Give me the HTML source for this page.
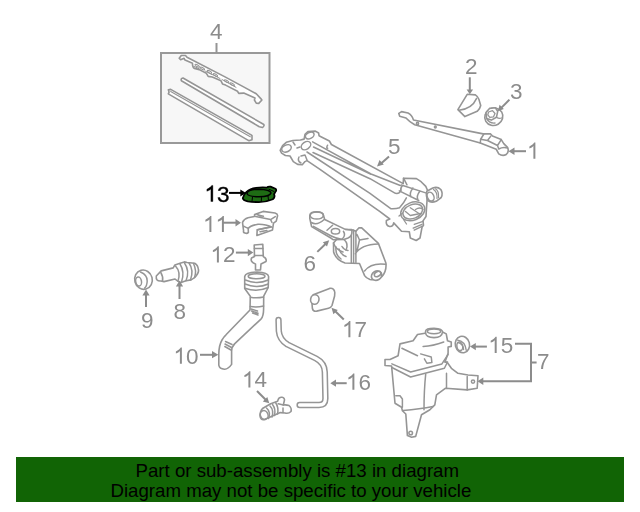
<!DOCTYPE html>
<html><head><meta charset="utf-8">
<style>
html,body{margin:0;padding:0;background:#fff;width:640px;height:512px;overflow:hidden}
svg{display:block;position:absolute;left:0;top:0}
text{will-change:transform}
.one{fill:#8c8c8c}
.t{font-family:"Liberation Sans",sans-serif;font-size:22.5px;fill:#8c8c8c}
.ln{fill:none;stroke:#959595;stroke-width:1.5;stroke-linejoin:round;stroke-linecap:round}
.pt{fill:#fff;stroke:#959595;stroke-width:1.6;stroke-linejoin:round;stroke-linecap:round}
.al{fill:none;stroke:#8c8c8c;stroke-width:2}
.ah{fill:#8c8c8c}
#bar{position:absolute;left:16px;top:457px;width:608px;height:45px;background:#116405;color:#000;font-family:"Liberation Sans",sans-serif;font-size:18.67px;line-height:20px}
#bar div{position:absolute;white-space:nowrap}
.l1{left:119.5px;top:4px}.l2{left:94.5px;top:24px}
</style></head><body>
<svg width="640" height="512" viewBox="0 0 640 512">
<!-- ===== part 4 box ===== -->
<rect x="161" y="53" width="108.5" height="90" fill="#f7f7f7" stroke="#999" stroke-width="2"/>
<line x1="216.5" y1="43" x2="216.5" y2="53" stroke="#959595" stroke-width="2"/>
<text class="t" x="210.00" y="39.0">4</text>
<path class="pt" d="M179.2,58.3 L181.3,55.5 L185.5,55.5 L187,57.3 L225,76.9 L243.1,86.6 L256.25,93.75 L261.25,99.1 L261.9,100 L258.75,103.4 L256.25,103.1 L254.4,100 L255,98.1 L243.75,93.1 L238.75,93.4 L237.5,91.25 L225.6,85.1 L222.5,83.9 L221,80.8 L212.3,77 L208.2,76.4 L206.4,73.3 L199.2,69.6 L194.5,68.4 Q192.3,67.5 192.5,63.3 L185,60.1 L184.1,58.3 L180.6,59.7 Z"/>
<ellipse class="ln" cx="197.2" cy="65.8" rx="2.5" ry="0.9" transform="rotate(28 197.2 65.8)" style="stroke-width:1.1"/><ellipse class="ln" cx="202.4" cy="68.5" rx="2.5" ry="0.9" transform="rotate(28 202.4 68.5)" style="stroke-width:1.1"/><ellipse class="ln" cx="209.4" cy="71.9" rx="2.5" ry="0.9" transform="rotate(28 209.4 71.9)" style="stroke-width:1.1"/><ellipse class="ln" cx="215.4" cy="75" rx="2.5" ry="0.9" transform="rotate(28 215.4 75)" style="stroke-width:1.1"/><ellipse class="ln" cx="226.6" cy="81.2" rx="2.5" ry="0.9" transform="rotate(28 226.6 81.2)" style="stroke-width:1.1"/><ellipse class="ln" cx="232.2" cy="84.2" rx="2.5" ry="0.9" transform="rotate(28 232.2 84.2)" style="stroke-width:1.1"/>
<path class="ln" d="M194.5,66.5 L200,69.3 M205.5,71.2 L212,74.7 M222,79.5 L236,87.3 M212.5,74.5 L220,78.5" style="stroke-width:1"/>
<path class="pt" d="M181.4,80.7 Q180.5,78.5 183,78 L263.4,124.2 Q265,125.5 262.6,127.5 L259.3,126.7 Z"/>
<path class="pt" d="M168.3,89.8 L170.7,89.4 L251.1,134.9 L252,135.7 L252,139.8 L249.5,140.6 L248.7,140.6 L168.3,93.9 L169.1,92.2 Z"/>
<path class="ln" d="M170.7,91.6 L250.3,136.8" style="stroke-width:1.1"/>

<!-- ===== part 1 arm ===== -->
<path class="pt" d="M398.8,113.4 L401.6,111.6 L408,113 Q412,115 413.5,120 L483.1,133.9 L490.6,133.9 L492.5,136.1 L501.25,139.6 L503.75,143.6 L507.5,147.4 Q509.5,151.5 506.25,154.5 Q502.5,156.5 498.75,153.8 L496.25,149.25 L480.3,143 L414.7,124.7 Q409,121.5 406,118 L399.7,116.3 Z"/>
<path class="ln" d="M483.75,134.25 L480.6,139.25 L480.3,143 M481.9,139.6 L487.5,140.5 L490.8,136.1 M487.5,140.5 L497.5,145.5 L501.25,139.6 M497.5,145.5 L498.75,149 Q503,146.5 507.5,148"/>
<circle class="ln" cx="417.5" cy="123.4" r="1.1"/>
<circle class="ln" cx="435.3" cy="127" r="0.9"/>
<line class="al" x1="526" y1="151.2" x2="512" y2="151.2"/>
<path class="ah" d="M508.5,151.2 L514.5,147.5 L514.5,155 Z"/>
<path class="one" transform="translate(527.00 158.7)" d="M8.38,0 L6.40,0 L6.40,-12.6 Q5.7,-11.9 4.76,-11.24 Q3.6,-10.6 2.38,-10.3 L2.38,-12.23 Q4.0,-13.0 5.5,-14.2 Q6.6,-15.2 7.24,-16.1 L8.38,-16.1 Z"/>

<!-- ===== part 2 cap ===== -->
<path class="pt" d="M467.2,94.3 L475.4,94.9 Q478,96.5 479,99.6 L480.7,105.5 Q480,109 477.2,111.3 L464.9,116.6 L457.9,109.6 Z"/>
<path class="ln" d="M459,110.2 Q472,109 476.6,98.4"/>
<line class="al" x1="469.8" y1="77.3" x2="469.8" y2="90"/>
<path class="ah" d="M466.6,89.5 L473.1,89.5 L469.8,94.3 Z"/>
<text class="t" x="465.00" y="73.8">2</text>

<!-- ===== part 3 nut ===== -->
<ellipse class="pt" cx="493.8" cy="116.8" rx="9.2" ry="8.6" transform="rotate(-30 493.8 116.8)"/>
<path class="pt" d="M486,112.5 L489.5,108.4 L495.4,107.8 L497.7,111.3 L496.5,117.2 L491.3,120.1 L486.6,118.4 Z"/>
<path class="ln" d="M488.5,112 L492.5,110.6 L495,113.5 L493.5,116.8 L489.8,117.3 L487.8,114.8 Z M486.6,118.4 Q489,123.5 495,123 M496.5,117.2 Q499,119 501.5,118" style="stroke-width:1.3"/>
<line class="al" x1="509.4" y1="99.6" x2="500.5" y2="108.6"/>
<path class="ah" d="M497.8,111.2 L499.6,104.8 L503.8,109 Z"/>
<text class="t" x="510.00" y="98.5">3</text>

<!-- ===== part 5 linkage ===== -->
<path class="pt" d="M280.2,150.3 L282.6,145.6 L286.3,142.3 L292.9,140.5 L300.4,140 L304.1,139.1 L305,134.4 L307.9,131.6 L315.4,131.1 L318.6,133 L319.1,135.8 L321.9,137.2 L329.4,141 L331.4,144.5 L403.2,183.6 L403.5,178.2 L416.4,178.6 L421.1,181.7 L425.8,186.4 L427.7,190.7 L426.4,209.7 L426,216.5 L423,220.9 L423.5,225.3 L422,227.3 L420,238 L416.2,240.5 L410.3,238 L409.3,231.7 L401.5,231.2 L393.7,222.9 Q393,227 389.5,226.5 Q385.5,225.5 386.4,220.4 L389.8,219 L380,211.6 L320,169.3 L307,160.6 L305,161.6 L302.25,164.8 L297.6,164.4 L293.3,161.6 L290,156 L285.4,155.5 L281.6,153.1 Z"/>
<ellipse class="ln" cx="309.75" cy="135.5" rx="4.6" ry="3" transform="rotate(-28 309.75 135.5)"/>
<ellipse class="ln" cx="286.5" cy="148.4" rx="5" ry="3.4" transform="rotate(-25 286.5 148.4)"/>
<ellipse class="ln" cx="306" cy="145.6" rx="5.2" ry="3.6" transform="rotate(-35 306 145.6)"/>
<path class="ln" d="M299,157 Q297,161 301,163 M301,156 L305,155 L307,160 M297,148 L300,147 M293,142 L295,145"/>
<!-- rods -->
<path class="ln" d="M312.6,141.9 L371,174 L400.3,185.5 M313.5,147 L371,174.3 M313,152.5 L370,178.7 L395.4,193.3 Q399.3,194 400.5,191 M307,152 L370,193.3 L390.75,208.7 Q396,209 399.5,207.7 Q404,203 406.4,197.9 M327.6,145.2 Q326,148 327.6,148.3"/>
<!-- rod end -->
<path class="ln" d="M401.3,185 L427.3,193.4 M399.3,190.9 L418.75,200.5 M402.5,185.5 Q400,188 401,191.5 M413,188 Q409,193 411,197 M420,191 Q416,196 418,200 M407,184.8 L403.5,178.2"/>
<path class="pt" d="M426.8,191.2 L432.8,188 Q437.5,186.3 440.8,189.5 Q443.3,193.5 441.2,197.5 L436.2,201.3 Q431,203.3 428,200.6 Q425.6,196.5 426.8,191.2 Z"/>
<ellipse class="ln" cx="430.6" cy="196.6" rx="3.2" ry="4.6" transform="rotate(-25 430.6 196.6)"/>
<path class="ln" d="M433.5,189.5 Q437.5,192 437,198.5 M435.5,188.8 Q439,191 438.5,197.5" style="stroke-width:1.2"/>
<!-- housing -->
<ellipse class="ln" cx="412.8" cy="211.3" rx="12.5" ry="8.8" transform="rotate(-22 412.8 211.3)"/>
<ellipse class="ln" cx="412.8" cy="211.5" rx="10.3" ry="6.9" transform="rotate(-22 412.8 211.5)"/>
<path class="ln" d="M405.5,211.5 L410.3,215.5 L420.5,213.5 M410.3,207.7 L420.5,214.5 M415.5,209.5 Q420,206.5 423,209.5" style="stroke-width:1.3"/>
<path class="ln" d="M414.2,224.3 L423,221.4 M413.2,228.2 L422,224.3 M414.2,230.2 L422,226.3 M403.5,219.5 L406.5,224 M399,216 L402,213.5" style="stroke-width:1.3"/>
<line class="al" x1="389" y1="156.5" x2="380.5" y2="164"/>
<path class="ah" d="M377,166.5 L379.5,160 L383.8,164.5 Z"/>
<text class="t" x="388.00" y="154.0">5</text>

<!-- ===== part 13 green cap ===== -->
<path d="M242.8,198.2 Q243.5,194.5 246.5,191.8 Q250,188.6 256,187.8 Q262,187.2 266.8,187.6 Q268,186.3 270.5,186.6 L275.5,188.8 Q277,190 275.3,192 L274,194.2 Q275.5,197 272.8,199.3 Q266,202.3 258.4,202.2 Q252,202 247.8,201.4 Q243,200.5 242.8,198.2 Z" fill="#1e6c14" stroke="#000" stroke-width="1.8" stroke-linejoin="round"/>
<path d="M247,193.5 Q247.5,189.5 259,189.2 Q270.5,189.5 271,193 Q270,196.6 259,196.8 Q247.5,196.6 247,193.5 Z" fill="#1e6c14" stroke="#000" stroke-width="1.5"/>
<path d="M252.5,197 L252,201 M261.5,197.2 L261.3,201.8 M268,196 L268.5,200.5 M268.5,189 L274,191.5" stroke="#000" stroke-width="1" fill="none"/>
<line x1="229" y1="192.9" x2="241" y2="192.9" stroke="#000" stroke-width="2"/>
<path d="M246.1,192.9 L240.3,189.4 L240.3,196.4 Z" fill="#000"/>
<path class="one" transform="translate(204.5 201.5)" d="M8.38,0 L6.40,0 L6.40,-12.6 Q5.7,-11.9 4.76,-11.24 Q3.6,-10.6 2.38,-10.3 L2.38,-12.23 Q4.0,-13.0 5.5,-14.2 Q6.6,-15.2 7.24,-16.1 L8.38,-16.1 Z" style="fill:#000;stroke:#000;stroke-width:0.35"/><text x="216.9" y="201.5" style="font-family:'Liberation Sans',sans-serif;font-size:22.5px;fill:#000;stroke:#000;stroke-width:0.35">3</text>

<!-- ===== part 11 clip ===== -->
<path class="pt" d="M242.5,222.4 Q244,219 248,217.8 L254.4,216.5 L254.6,214.6 L263.1,211.4 L275,213 Q278,214 277.5,216 L276.25,221.1 L273.5,223.2 L272.5,229.9 L256.9,235.5 L257.2,229.9 L271,226.8 Q266,224 258,224.2 Q250,225.5 248.2,228.6 L248.4,232.4 Q247,234 245,233 Q243,232.5 243.6,231 Z"/>
<path class="ln" d="M254.5,216.3 L270.6,219.6 L272,222.5 M270.6,219.6 L275.3,216.6 M243.6,226.1 Q246,227.5 248.2,228.3 M257.4,229.8 L271.5,227 M260,231.7 L266.9,230.4 M257,214.5 Q260,216 263.5,216.2"/>
<line class="al" x1="223" y1="222.7" x2="237" y2="222.7"/>
<path class="ah" d="M241,222.7 L235.5,219 L235.5,226.4 Z"/>
<path class="one" transform="translate(203.00 232.0)" d="M8.38,0 L6.40,0 L6.40,-12.6 Q5.7,-11.9 4.76,-11.24 Q3.6,-10.6 2.38,-10.3 L2.38,-12.23 Q4.0,-13.0 5.5,-14.2 Q6.6,-15.2 7.24,-16.1 L8.38,-16.1 Z"/><path class="one" transform="translate(215.51 232.0)" d="M8.38,0 L6.40,0 L6.40,-12.6 Q5.7,-11.9 4.76,-11.24 Q3.6,-10.6 2.38,-10.3 L2.38,-12.23 Q4.0,-13.0 5.5,-14.2 Q6.6,-15.2 7.24,-16.1 L8.38,-16.1 Z"/>

<!-- ===== part 12 ===== -->
<path class="pt" d="M254.2,245 L262.8,244.3 L263.3,256.5 Q267,258.5 266,261.5 L261,264 L260.5,270 L255.5,270 L255.5,264 Q250,262 251.5,258 L254.5,256.5 Z"/>
<path class="ln" d="M254.4,248.5 L262.9,248.5 M254.5,255.5 L263,255.5"/>
<line class="al" x1="235.9" y1="252.6" x2="249.5" y2="252.6"/>
<path class="ah" d="M253.4,252.6 L247.8,249 L247.8,256.2 Z"/>
<path class="one" transform="translate(210.50 262.4)" d="M8.38,0 L6.40,0 L6.40,-12.6 Q5.7,-11.9 4.76,-11.24 Q3.6,-10.6 2.38,-10.3 L2.38,-12.23 Q4.0,-13.0 5.5,-14.2 Q6.6,-15.2 7.24,-16.1 L8.38,-16.1 Z"/><text class="t" x="223.01" y="262.4">2</text>

<!-- ===== part 10 hose ===== -->
<path class="pt" d="M244.7,276.5 Q245.5,272.5 257,272 Q268,272.5 268.6,276.5 L268.2,287.5 L263.7,296.2 L263.6,309.2 Q263.5,316 261.2,318.8 L234.8,343.6 Q231.6,347 231.6,351 L231.6,364.4 Q228,369.5 224.4,369.2 Q219.5,369 218.8,365.2 L218.8,354 Q219,345 222,340 Q224,336.5 226,334.8 L250,310 L250.3,296.2 L244.7,288.5 Z"/>
<ellipse class="ln" cx="256.6" cy="276.3" rx="8.4" ry="2.5"/>
<path class="ln" d="M245.4,280 Q257,285 268.3,280 M245.2,284 Q257,289 268.3,284 M245,288.2 Q257,292.5 268.2,287.5 M250.5,297.3 Q257,298.5 263.6,297 M250.3,306.5 Q257,307.5 263.6,306"/>
<path class="ln" d="M251,309 L257.5,311 M251.5,311 L258,313.2 M252.5,313 L258,315 M225.5,341.5 L232,344.5 M225,344 L231.5,347.5 M224.8,346.5 L231,350"/>
<line class="al" x1="200" y1="354.8" x2="213" y2="354.8"/>
<path class="ah" d="M218.3,354.7 L212,351 L212,358.2 Z"/>
<path class="one" transform="translate(173.50 363.7)" d="M8.38,0 L6.40,0 L6.40,-12.6 Q5.7,-11.9 4.76,-11.24 Q3.6,-10.6 2.38,-10.3 L2.38,-12.23 Q4.0,-13.0 5.5,-14.2 Q6.6,-15.2 7.24,-16.1 L8.38,-16.1 Z"/><text class="t" x="186.01" y="363.7">0</text>

<!-- ===== part 9 grommet ===== -->
<ellipse class="pt" cx="143.5" cy="279.7" rx="8.8" ry="9.7" transform="rotate(-15 143.5 279.7)"/>
<path class="ln" d="M140.5,272 Q147.5,275 147.2,281 Q147,286 144.6,288.1"/>
<ellipse class="ln" cx="138.6" cy="281.5" rx="2.9" ry="4.5" transform="rotate(-10 138.6 281.5)"/>
<line class="al" x1="146" y1="307" x2="146" y2="293"/>
<path class="ah" d="M146,289.5 L142.4,295.5 L149.6,295.5 Z"/>
<text class="t" x="141.00" y="328.2">9</text>

<!-- ===== part 8 nozzle ===== -->
<path class="pt" d="M156.3,276 Q155.5,281.5 161,281 L164,281.6 L175,279 Q178,282 181,282.5 L186,280.8 L191.2,279.9 Q195,278 196.4,275.6 Q199,272 198.5,270 Q198,265 194.7,263.2 L187,262.5 L184.4,261.9 L180,263.2 L174.9,264.9 L173.2,267.9 L161.2,270.9 Z"/>
<path class="ln" d="M175.5,266 Q181,272 178,281 M180,264 Q185,272 181.5,282 M184.5,263 Q190,271 186,280.8 M189,263 Q194,270 190.5,280 M193.5,263.5 Q197,271 194.5,277.5 M160.8,272.5 Q163.5,277 162.5,281.3"/>
<line class="al" x1="179.5" y1="299" x2="179.5" y2="285"/>
<path class="ah" d="M179.5,280.5 L175.9,286.5 L183.1,286.5 Z"/>
<text class="t" x="173.50" y="318.5">8</text>

<!-- ===== part 6 motor ===== -->
<!-- housing behind -->
<path class="pt" d="M333.5,243 L345,229.5 L351.3,229.6 L355.9,231.3 L358.8,227.9 L361.7,227.9 L378.4,243.4 L385.9,263 Q386.8,271 382,276.5 Q376,280.5 370,279.5 Q366,278 364.6,275.6 L359.5,263.5 L345,263 Q336,260 333.6,252 Z"/>
<path class="ln" d="M351.3,230 L351.3,263 M353.6,230 L353.6,263 M355.9,231.5 L355.9,262.5 M355.4,253.8 Q361,244.5 378.4,244 M364.6,271 Q371,262.5 385.6,264.3 M357,234.5 L359.5,240 L368,238.5 M359.5,240 L357,251"/>
<path class="ln" d="M336,247 Q335,255 341,259 M339,249 Q341,255 346,256.5 M342,246.5 Q344,250 348,250.5"/>
<!-- crank arm -->
<path class="pt" d="M309.8,215.5 Q310,211.8 316.75,211.8 Q323.5,212 323.5,215.5 L324.7,219.5 L345.3,229.4 L351.9,230.3 Q352.5,236 348,238 L344,239.5 L333.1,239.7 L331.25,238.3 L311.6,226.6 L309.8,218.5 Z"/>
<ellipse class="ln" cx="316.75" cy="215.5" rx="6.6" ry="3.6"/>
<path class="ln" d="M311.3,222.5 Q317,226 324.2,219.5 M313.4,226.3 L331.25,236 Q338,239.5 342.5,238.75 Q346,235 343.4,231.25 M327,230.3 L332.6,225.2"/>
<ellipse class="ln" cx="335.5" cy="231.2" rx="4.2" ry="2.8"/>
<path class="ln" d="M344,239.5 Q349,244 346,250 M333.5,243 Q336,250 343,252"/>
<ellipse class="pt" cx="376.6" cy="275.6" rx="5.4" ry="4.5" transform="rotate(-30 376.6 275.6)"/>
<ellipse class="ln" cx="377.6" cy="274" rx="3.5" ry="2.3" transform="rotate(-30 377.6 274)"/>
<line class="al" x1="317.3" y1="251.9" x2="326.5" y2="243"/>
<path class="ah" d="M329.2,240.2 L322.8,242.2 L327,246.4 Z"/>
<text class="t" x="303.60" y="270.6">6</text>

<!-- ===== part 17 ===== -->
<path class="pt" d="M313.2,294.8 L329.6,288.4 Q334.3,287.6 334.8,292.5 L334.6,296 L332,305.5 Q331,307.6 328.5,308.2 L316.7,311.1 Q313,311.8 312.4,308.5 L312,303.5 Z"/>
<ellipse class="pt" cx="314.8" cy="299.5" rx="4.2" ry="4.8" transform="rotate(10 314.8 299.5)"/>
<line class="al" x1="343.8" y1="319.5" x2="334.5" y2="310.5"/>
<path class="ah" d="M331.5,307.8 L333.4,314.3 L337.8,310 Z"/>
<path class="one" transform="translate(342.00 337.2)" d="M8.38,0 L6.40,0 L6.40,-12.6 Q5.7,-11.9 4.76,-11.24 Q3.6,-10.6 2.38,-10.3 L2.38,-12.23 Q4.0,-13.0 5.5,-14.2 Q6.6,-15.2 7.24,-16.1 L8.38,-16.1 Z"/><text class="t" x="354.51" y="337.2">7</text>

<!-- ===== part 16 hose ===== -->
<path d="M278.5,320 L278.8,331 Q279.5,339.5 287.5,344.5 L316,358.5 Q324.6,363 324.8,372 L325.4,398.5 Q325.4,405 319,405 L299.6,405" fill="none" stroke="#959595" stroke-width="6.4" stroke-linecap="round" stroke-linejoin="round"/>
<path d="M278.5,320 L278.8,331 Q279.5,339.5 287.5,344.5 L316,358.5 Q324.6,363 324.8,372 L325.4,398.5 Q325.4,405 319,405 L299.6,405" fill="none" stroke="#fff" stroke-width="3.3" stroke-linecap="round" stroke-linejoin="round"/>
<line class="al" x1="346.7" y1="383.2" x2="334" y2="383.2"/>
<path class="ah" d="M330.3,383.2 L336,379.6 L336,386.8 Z"/>
<path class="one" transform="translate(346.00 389.7)" d="M8.38,0 L6.40,0 L6.40,-12.6 Q5.7,-11.9 4.76,-11.24 Q3.6,-10.6 2.38,-10.3 L2.38,-12.23 Q4.0,-13.0 5.5,-14.2 Q6.6,-15.2 7.24,-16.1 L8.38,-16.1 Z"/><text class="t" x="358.51" y="389.7">6</text>

<!-- ===== part 14 pump ===== -->
<path class="pt" d="M262.5,408.5 L270.7,403.7 L277.6,401.3 L278.2,399.5 Q279,397 282,397.3 Q285,398 284.4,400.5 L283.3,405 Q286,404.5 289,405.5 Q292,408 291,411.5 Q288.5,414 285,413 L280.3,412.6 L264.6,419.4 Q260.5,420.5 260,416 Q260,411 262.5,408.5 Z"/>
<ellipse class="ln" cx="264.2" cy="415" rx="3.8" ry="4.5" transform="rotate(-20 264.2 415)"/>
<path class="ln" d="M266.5,408 Q271,412 268.5,418.5 M270,406 Q274,410 272,417 M272.5,404.5 Q276,409 274.5,415.5 M275.5,402.5 Q279,407.5 277.5,414 M278.2,403.7 L283.3,405 M283,408 L283,412.5"/>
<line class="al" x1="257" y1="391" x2="266.2" y2="400.2"/>
<path class="ah" d="M269.3,403.3 L262.8,401.5 L267.3,397 Z"/>
<path class="one" transform="translate(242.00 387.4)" d="M8.38,0 L6.40,0 L6.40,-12.6 Q5.7,-11.9 4.76,-11.24 Q3.6,-10.6 2.38,-10.3 L2.38,-12.23 Q4.0,-13.0 5.5,-14.2 Q6.6,-15.2 7.24,-16.1 L8.38,-16.1 Z"/><text class="t" x="254.51" y="387.4">4</text>

<!-- ===== part 7 tank ===== -->
<path class="pt" d="M385,359.5 L390,359.5 L398.1,355.75 L400,343.9 L413.1,340.75 L417.5,334.5 L425,333.25 L442.5,332 L446.25,333.9 L447.5,340.75 L451.25,342 L451.25,346.4 L448.1,347 L448.1,353.25 L445,362 L447.3,362.5 L451.4,368.3 L458,373.3 L468,375 L478,375.8 L477.2,388.2 L467.2,389.9 L445.6,388.2 L436.5,394.9 L434.8,404.9 L429.9,409.8 L421.5,414.8 L415.7,436.4 L411.6,437.2 L407.4,435.6 L405.8,414 L402.4,410.7 L401.6,407.3 L395,403.2 L391.6,366 L385,365.5 Z"/>
<path class="pt" d="M425.6,331 Q426,328.2 434,328.2 Q442.5,328.5 442.5,332 Q442,337.6 434,337.6 Q426,337.4 425.6,333 Z"/>
<ellipse class="ln" cx="434" cy="331.3" rx="6.6" ry="2.4"/>
<path class="ln" d="M401.9,348.25 L417.5,355.75 M423.1,346.4 Q433,346 443.75,342 M420.6,353.9 L431.25,357 L431.9,362.6 L426.9,363.25 L424.4,358.9 M391.9,363.9 L410.6,372 L441.9,363.9 L448.1,354.5 M391.9,367.5 L410.6,377 L444.4,368.25 L447.5,362 M445,362 L447.5,362"/>
<path class="ln" d="M446.5,373.3 L446.5,387.4 M467.2,376.6 L467.2,389.9 M425.7,374.1 Q424,390 424,409.8 M395.8,395.7 L400,395.7 L402.4,399 L402.4,407.3 M403,410.5 Q420,409 433,406.5"/>
<circle class="ln" cx="473" cy="381.6" r="1.6"/>
<circle class="ln" cx="410.7" cy="433" r="1.8"/>
<ellipse class="pt" cx="462.4" cy="344.5" rx="7.1" ry="8.3" transform="rotate(-15 462.4 344.5)"/>
<ellipse class="ln" cx="459.8" cy="346.3" rx="2.9" ry="4.3" transform="rotate(-10 459.8 346.3)"/>
<path class="ln" d="M457.6,340.2 Q465,341 466.3,350.3 M457.8,342.3 Q463.5,344 463.6,349.5" style="stroke-width:1.3"/>
<line class="al" x1="486.9" y1="346.6" x2="474" y2="346.6"/>
<path class="ah" d="M470,346.6 L475.8,343 L475.8,350.2 Z"/>
<path class="one" transform="translate(488.30 352.9)" d="M8.38,0 L6.40,0 L6.40,-12.6 Q5.7,-11.9 4.76,-11.24 Q3.6,-10.6 2.38,-10.3 L2.38,-12.23 Q4.0,-13.0 5.5,-14.2 Q6.6,-15.2 7.24,-16.1 L8.38,-16.1 Z"/><text class="t" x="500.81" y="352.9">5</text>
<path class="al" d="M515,343.75 L531,343.75 L531,381.25 L481.5,381.25 M531,362.5 L536.6,362.5"/>
<path class="ah" d="M477.5,381.25 L483.3,377.6 L483.3,384.9 Z"/>
<text class="t" x="537.00" y="369.0">7</text>
</svg>
<div id="bar"><div class="l1">Part or sub-assembly is #13 in diagram</div><div class="l2">Diagram may not be specific to your vehicle</div></div>
</body></html>
